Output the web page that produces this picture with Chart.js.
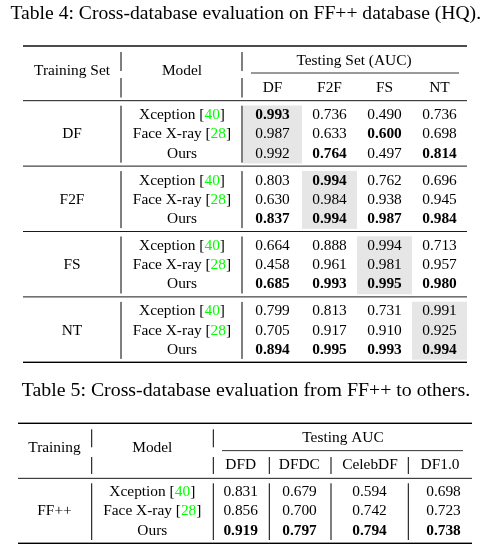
<!DOCTYPE html>
<html><head><meta charset="utf-8">
<script src="https://cdn.jsdelivr.net/npm/chart.js@4.4.1/dist/chart.umd.min.js"></script>
<style>html,body{margin:0;padding:0;background:#fff}#wrap{width:487px;height:557px}</style>
</head><body><div id="wrap"><canvas id="c"></canvas></div>
<script>
// ---- DATA ----
const title4 = 'Table 4: Cross-database evaluation on FF++ database (HQ).';
const title5 = 'Table 5: Cross-database evaluation from FF++ to others.';
const modelNames = ['Xception', 'Face X-ray', 'Ours'];
const modelCites = ['40', '28', ''];
const t4TrainingSets = ['DF', 'F2F', 'FS', 'NT'];
const t4TestSets = ['DF', 'F2F', 'FS', 'NT'];
const t4_DF  = [[0.993, 0.736, 0.490, 0.736], [0.987, 0.633, 0.600, 0.698], [0.992, 0.764, 0.497, 0.814]];
const t4_F2F = [[0.803, 0.994, 0.762, 0.696], [0.630, 0.984, 0.938, 0.945], [0.837, 0.994, 0.987, 0.984]];
const t4_FS  = [[0.664, 0.888, 0.994, 0.713], [0.458, 0.961, 0.981, 0.957], [0.685, 0.993, 0.995, 0.980]];
const t4_NT  = [[0.799, 0.813, 0.731, 0.991], [0.705, 0.917, 0.910, 0.925], [0.894, 0.995, 0.993, 0.994]];
const t5Training = ['FF++'];
const t5TestSets = ['DFD', 'DFDC', 'CelebDF', 'DF1.0'];
const t5_FF = [[0.831, 0.679, 0.594, 0.698], [0.856, 0.700, 0.742, 0.723], [0.919, 0.797, 0.794, 0.738]];

// ---- LAYOUT / STYLE ----
const FONT = '"Liberation Serif", "Times New Roman", serif';
const FS = 15.4;
const GREEN = '#00ff00';
const GRAY = '#e6e6e6';

const L4 = {
  left: 23, right: 467, top: 46, h1: 60, cmid: 73, cmidL: 251, cmidR: 459, h2: 87, hMid: 70,
  v: [121, 242], vSeg: [[52, 71], [78, 97.5]],
  firstRule: 100.7, blockStep: 65.4, rowOff: [13.4, 32.6, 51.8], grayOff: [4.8, 62.8], vOff: [5, 62],
  trainX: 72, modelX: 182, colEdges: [243, 302, 357, 412, 467], titleX: 10.5, titleW: 471, titleBase: 18.5,
  testingX: 354
};
const L5 = {
  left: 18, right: 472, top: 423.3, h1: 436.7, cmid: 450.7, cmidL: 222, cmidR: 463, h2: 464.3, hMid: 447.3,
  v: [91.7, 213.3], vSub: [269.3, 331, 408.3], vSeg: [[429.3, 447.3], [457, 474]], subSeg: [457, 474],
  mid: 478.3, rows: [490.7, 510.3, 530], vData: [483.3, 540], bottom: 543.3,
  trainX: 54.5, modelX: 152.3, headX: [240.7, 299.3, 370, 440], dataX: [240.7, 299.5, 369.5, 443.5],
  titleX: 21.8, titleW: 448.5, titleBase: 396, testingX: 343
};

const tablePlugin = {
  id: 'tables',
  afterDraw(chart) {
    const ctx = chart.ctx;
    const sx = chart.scales.x, sy = chart.scales.y;
    const X = v => sx.getPixelForValue(v);
    const Y = v => sy.getPixelForValue(v);
    const font = (bold, size) => (bold ? 'bold ' : '') + size + 'px ' + FONT;
    function hline(x1, x2, y, w) { ctx.save(); ctx.fillStyle = '#000'; ctx.fillRect(X(x1), Y(y) - w / 2, X(x2) - X(x1), w); ctx.restore(); }
    function vline(x, y1, y2, w) { ctx.save(); ctx.fillStyle = '#000'; ctx.fillRect(X(x) - w / 2, Y(y1), w, Y(y2) - Y(y1)); ctx.restore(); }
    function box(x1, x2, y1, y2, c) { ctx.save(); ctx.fillStyle = c; ctx.fillRect(X(x1), Y(y1), X(x2) - X(x1), Y(y2) - Y(y1)); ctx.restore(); }
    function text(s, x, yc, bold, size) {
      size = size || FS;
      ctx.save(); ctx.font = font(bold, size); ctx.fillStyle = '#000';
      ctx.textAlign = 'center'; ctx.textBaseline = 'alphabetic';
      ctx.fillText(s, X(x), Y(yc) + size * 0.335);
      ctx.restore();
    }
    function title(s, x, base, width) {
      ctx.save();
      ctx.font = font(false, 18);
      const w = ctx.measureText(s).width;
      const size = 18 * width / w;
      ctx.font = font(false, size); ctx.fillStyle = '#000';
      ctx.textAlign = 'left'; ctx.textBaseline = 'alphabetic';
      ctx.fillText(s, X(x), Y(base));
      ctx.restore();
    }
    function model(i, x, yc) {
      ctx.save(); ctx.font = font(false, FS); ctx.textBaseline = 'alphabetic'; ctx.textAlign = 'left';
      const name = modelNames[i], cite = modelCites[i];
      const parts = cite ? [[name + ' [', '#000'], [cite, GREEN], [']', '#000']] : [[name, '#000']];
      const total = parts.reduce((a, p) => a + ctx.measureText(p[0]).width, 0);
      let px = X(x) - total / 2;
      const py = Y(yc) + FS * 0.335;
      for (const p of parts) { ctx.fillStyle = p[1]; ctx.fillText(p[0], px, py); px += ctx.measureText(p[0]).width; }
      ctx.restore();
    }
    const colMax = (block, j) => Math.max(...block.map(r => r[j]));

    // ===== Table 4 =====
    title(title4, L4.titleX, L4.titleBase, L4.titleW);
    hline(L4.left, L4.right, L4.top, 1.4);
    text('Testing Set (AUC)', L4.testingX, L4.h1);
    hline(L4.cmidL, L4.cmidR, L4.cmid, 0.8);
    text('Training Set', L4.trainX, L4.hMid);
    text('Model', L4.modelX, L4.hMid);
    for (const vx of L4.v) for (const sg of L4.vSeg) vline(vx, sg[0], sg[1], 1);
    const cx = j => (L4.colEdges[j] + L4.colEdges[j + 1]) / 2;
    t4TestSets.forEach((s, j) => text(s, cx(j), L4.h2));
    const blocks = [t4_DF, t4_F2F, t4_FS, t4_NT];
    blocks.forEach((block, b) => {
      const r0 = L4.firstRule + b * L4.blockStep;
      hline(L4.left, L4.right, r0, 0.9);
      box(L4.colEdges[b], L4.colEdges[b + 1], r0 + L4.grayOff[0], r0 + L4.grayOff[1], GRAY);
      for (const vx of L4.v) vline(vx, r0 + L4.vOff[0], r0 + L4.vOff[1], 1);
      text(t4TrainingSets[b], L4.trainX, r0 + L4.rowOff[1]);
      block.forEach((row, i) => {
        const yc = r0 + L4.rowOff[i];
        model(i, L4.modelX, yc);
        row.forEach((v, j) => text(v.toFixed(3), cx(j), yc, v === colMax(block, j)));
      });
    });
    hline(L4.left, L4.right, L4.firstRule + blocks.length * L4.blockStep, 1.4);

    // ===== Table 5 =====
    title(title5, L5.titleX, L5.titleBase, L5.titleW);
    hline(L5.left, L5.right, L5.top, 1.4);
    text('Testing AUC', L5.testingX, L5.h1);
    hline(L5.cmidL, L5.cmidR, L5.cmid, 0.8);
    text('Training', L5.trainX, L5.hMid);
    text('Model', L5.modelX, L5.hMid);
    for (const vx of L5.v) for (const sg of L5.vSeg) vline(vx, sg[0], sg[1], 1);
    for (const vx of L5.vSub) vline(vx, L5.subSeg[0], L5.subSeg[1], 1);
    t5TestSets.forEach((s, j) => text(s, L5.headX[j], L5.h2));
    hline(L5.left, L5.right, L5.mid, 0.9);
    for (const vx of L5.v.concat(L5.vSub)) vline(vx, L5.vData[0], L5.vData[1], 1);
    text(t5Training[0], L5.trainX, L5.rows[1]);
    t5_FF.forEach((row, i) => {
      model(i, L5.modelX, L5.rows[i]);
      row.forEach((v, j) => text(v.toFixed(3), L5.dataX[j], L5.rows[i], v === colMax(t5_FF, j)));
    });
    hline(L5.left, L5.right, L5.bottom, 1.4);
  }
};

new Chart(document.getElementById('c'), {
  type: 'scatter',
  data: { datasets: [{ data: [], pointRadius: 0 }] },
  options: {
    responsive: true, maintainAspectRatio: false, animation: false,
    layout: { padding: 0 },
    plugins: { legend: { display: false }, tooltip: { enabled: false }, title: { display: false } },
    scales: {
      x: { type: 'linear', min: 0, max: 487, display: false },
      y: { type: 'linear', min: 0, max: 557, reverse: true, display: false }
    }
  },
  plugins: [tablePlugin]
});
</script></body></html>
